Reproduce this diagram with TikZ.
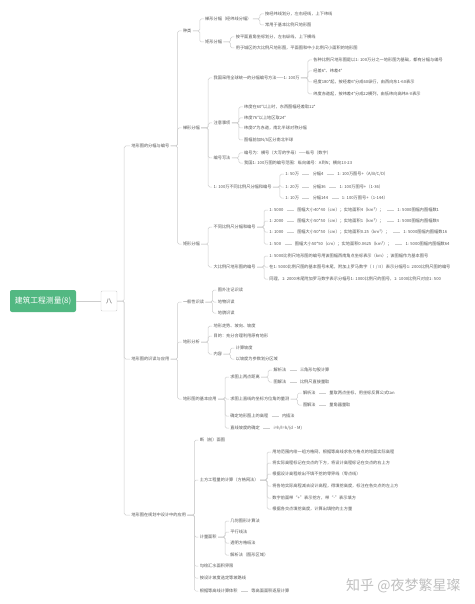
\documentclass[tikz,border=0pt]{standalone}
\usepackage{fontspec}
\newfontfamily\cjk{Noto Sans CJK SC}
\usepackage{tikz}
\usetikzlibrary{positioning, calc}
\definecolor{rootgreen}{RGB}{82,184,130}
\definecolor{linegray}{RGB}{205,205,205}
\definecolor{txtgray}{RGB}{85,85,85}

\begin{document}
\begin{tikzpicture}[x=1pt, y=-1pt,
    leaf/.style={anchor=west, inner sep=1.2pt, text=txtgray, font=\cjk\fontsize{4.2}{5}\selectfont},
    link/.style={draw=linegray, line width=0.5pt, rounded corners=1.5pt}]
  \useasboundingbox (0,0) rectangle (474,604);
  \def\kid#1#2#3#4{%
    \path (#1.east) ++(11,0) coordinate (#2x);
    \node[leaf] (#2) at (#2x |- 0,#3) {#4};
    \draw[link] (#1.east) -- ++(7,0) |- (#2.west);}
  \def\nxt#1#2#3{%
    \node[leaf, right=11pt of #1] (#2) {#3};
    \draw[link] ([xshift=2pt]#1.east) -- ([xshift=-2pt]#2.west);}

  \node[fill=rootgreen, text=white, rounded corners=2pt, minimum width=66pt, minimum height=22pt,
        inner sep=0pt, font=\cjk\fontsize{7.8}{9}\selectfont] (root) at (43,301) {建筑工程测量(8)};
  \node[draw=linegray, fill=white, rounded corners=1pt, minimum width=16pt, minimum height=20pt,
        inner sep=0pt, text=txtgray, font=\cjk\fontsize{6}{7}\selectfont] (ba) at (109,301) {八};
  \draw[link] (root.east) -- (ba.west);

  \node[leaf] (fenfu) at (130,146) {地形图的分幅与编号};
  \node[leaf] (shidu) at (130,359) {地形图的识读与应用};
  \node[leaf] (guihua) at (130,515) {地形图在规划中设计中的应用};
  \foreach \n in {fenfu, shidu, guihua}
    \draw[link] (ba.east) -- ++(7,0) |- (\n.west);

  \kid{fenfu}{zhonglei}{31}{种类}
  \kid{zhonglei}{jingwei}{19}{梯形分幅（经纬线分幅）}
  \kid{jingwei}{jw1}{14}{按经纬线划分，左右经线，上下纬线}
  \kid{jingwei}{jw2}{25}{常用于基本比例尺地形图}
  \kid{zhonglei}{zhijiao}{42}{矩形分幅}
  \kid{zhijiao}{zj1}{37}{按平面直角坐标划分，左右纵线，上下横线}
  \kid{zhijiao}{zj2}{48}{用于城区的大比例尺地形图，平面图和中小比例尺小面积的地形图}

  \kid{fenfu}{tixing}{128}{梯形分幅}
  \kid{tixing}{quanqiu}{78}{我国采用全球统一的分幅编号方法——1: 100万}
  \kid{quanqiu}{qq1}{60}{各种比例尺地形图是以1: 100万分之一地形图为基础，都有分幅与编号}
  \kid{quanqiu}{qq2}{71}{经差6°、纬差4°}
  \kid{quanqiu}{qq3}{82}{经度180°起，按经差6°分成60纵行，由西向东1-60表示}
  \kid{quanqiu}{qq4}{94}{纬度赤道起，按纬差4°分成22横列，由低纬向高纬A-V表示}
  \kid{tixing}{zhuyi}{123}{注意事项}
  \kid{zhuyi}{zy1}{107}{纬度在60°以上时，东西图幅经差取12°}
  \kid{zhuyi}{zy2}{118}{纬度76°以上地区取24°}
  \kid{zhuyi}{zy3}{128}{纬度0°为赤道，南北半球对称分幅}
  \kid{zhuyi}{zy4}{140}{图幅前加N/S区分南北半球}
  \kid{tixing}{xiefa}{158}{编号写法}
  \kid{xiefa}{xf1}{153}{编号为：横号（大写的字母）——纵号（数字）}
  \kid{xiefa}{xf2}{163}{我国1: 100万图的编号范围：纵向编号：A到N；横向13-23}
  \kid{tixing}{butong}{187}{1: 100万不同比例尺分幅和编号}
  \kid{butong}{wushi}{174}{1: 50万}
  \nxt{wushi}{wushiB}{分幅4}
  \nxt{wushiB}{wushiC}{1: 100万图号+（A/B/C/D）}
  \kid{butong}{ershi}{187}{1: 20万}
  \nxt{ershi}{ershiB}{分幅36}
  \nxt{ershiB}{ershiC}{1: 100万图号+（1-36）}
  \kid{butong}{shiwan}{198}{1: 10万}
  \nxt{shiwan}{shiwanB}{分幅144}
  \nxt{shiwanB}{shiwanC}{1: 100万图号+（1-144）}

  \kid{fenfu}{juxing}{244}{矩形分幅}
  \kid{juxing}{bili}{227}{不同比例尺分幅和编号}
  \kid{bili}{wuqian}{210}{1: 5000}
  \nxt{wuqian}{wuqianB}{图幅大小40*40（cm）；实地面积4（km²）；}
  \nxt{wuqianB}{wuqianC}{1: 5000图幅内图幅数1}
  \kid{bili}{liangqian}{221}{1: 2000}
  \nxt{liangqian}{liangqianB}{图幅大小50*50（cm）；实地面积1（km²）；}
  \nxt{liangqianB}{liangqianC}{1: 5000图幅内图幅数4}
  \kid{bili}{yiqian}{232}{1: 1000}
  \nxt{yiqian}{yiqianB}{图幅大小50*50（cm）；实地面积0.25（km²）；}
  \nxt{yiqianB}{yiqianC}{1: 5000图幅内图幅数16}
  \kid{bili}{wubai}{244}{1: 500}
  \nxt{wubai}{wubaiB}{图幅大小50*50（cm）；实地面积0.0625（km²）；}
  \nxt{wubaiB}{wubaiC}{1: 5000图幅内图幅数64}
  \kid{juxing}{dabili}{267}{大比例尺地形图的编号}
  \kid{dabili}{db1}{256}{1: 5000比例尺地形图的编号用该图幅西南角点坐标表示（km）；该图幅作为基本图号}
  \kid{dabili}{db2}{267}{在1: 5000比例尺图的基本图号末尾，附加上罗马数字（Ⅰ/Ⅱ）表示分幅号1: 2000比例尺图的编号}
  \kid{dabili}{db3}{279}{同理，1: 2000末尾附加罗马数字表示分幅号1: 1000比例尺的图号，1: 1000比例尺对应1: 500}

  \kid{shidu}{yiban}{302}{一般性识读}
  \kid{yiban}{yb1}{290}{图外注记识读}
  \kid{yiban}{yb2}{302}{地物识读}
  \kid{yiban}{yb3}{313}{地貌识读}
  \kid{shidu}{fenxi}{342}{地形分析}
  \kid{fenxi}{fx1}{326}{地形走势、坡向、坡度}
  \kid{fenxi}{fx2}{336}{目的：充分合理利用原有地形}
  \kid{fenxi}{neirong}{354}{内容}
  \kid{neirong}{nr1}{348}{计算坡度}
  \kid{neirong}{nr2}{359}{以坡度为参数划分区域}
  \kid{shidu}{jiben}{399}{地形图的基本应用}
  \kid{jiben}{juli}{377}{求图上两点距离}
  \kid{juli}{jlA}{370}{解析法}
  \nxt{jlA}{jlA2}{三角形勾股计算}
  \kid{juli}{jlB}{382}{图解法}
  \nxt{jlB}{jlB2}{比例尺直接量取}
  \kid{jiben}{fangwei}{399}{求图上直线的坐标方位角的量测}
  \kid{fangwei}{fwA}{393}{解析法}
  \nxt{fwA}{fwA2}{量取两点坐标，用坐标反算公式tan}
  \kid{fangwei}{fwB}{405}{图解法}
  \nxt{fwB}{fwB2}{量角器量取}
  \kid{jiben}{gaocheng}{416}{确定地形图上的高程}
  \nxt{gaocheng}{neicha}{内插法}
  \kid{jiben}{podu}{428}{直线坡度的确定}
  \nxt{podu}{gongshi}{i=h/l=h/(d·M)}

  \kid{guihua}{duanmian}{440}{断（剖）面图}
  \kid{guihua}{tufang}{480}{土方工程量的计算（方格网法）}
  \kid{tufang}{tf1}{452}{用地范围内绘一组方格网，根据等高线求各方格点的地面实际高程}
  \kid{tufang}{tf2}{463}{将实际高程标记在交点的下方，将设计高程标记在交点的右上方}
  \kid{tufang}{tf3}{474}{根据设计高程绘出不填不挖的零界线（零点线）}
  \kid{tufang}{tf4}{486}{将各地实际高程减去设计高程，得填挖高度，标注在各交点的左上方}
  \kid{tufang}{tf5}{498}{数字前面带“+”表示挖方，带“-”表示填方}
  \kid{tufang}{tf6}{509}{根据各交点填挖高度，计算出填挖的土方量}
  \kid{guihua}{mianji}{537}{计量面积}
  \kid{mianji}{mj1}{521}{几何图形计算法}
  \kid{mianji}{mj2}{532}{平行线法}
  \kid{mianji}{mj3}{543}{透明方格纸法}
  \kid{mianji}{mj4}{555}{解析法（图形区域）}
  \kid{guihua}{huishui}{566}{勾绘汇水面积界限}
  \kid{guihua}{luxian}{578}{按设计坡度选定等坡路线}
  \kid{guihua}{tiji}{591}{根据等高线计算体积}
  \nxt{tiji}{tiji2}{等高面面积逐层计算}

  \node[anchor=west, inner sep=0pt, text=black!25, font=\cjk\fontsize{14}{16}\selectfont] (zhihu) at (346,586) {知乎 @夜梦繁星璨};
\end{tikzpicture}
\end{document}
